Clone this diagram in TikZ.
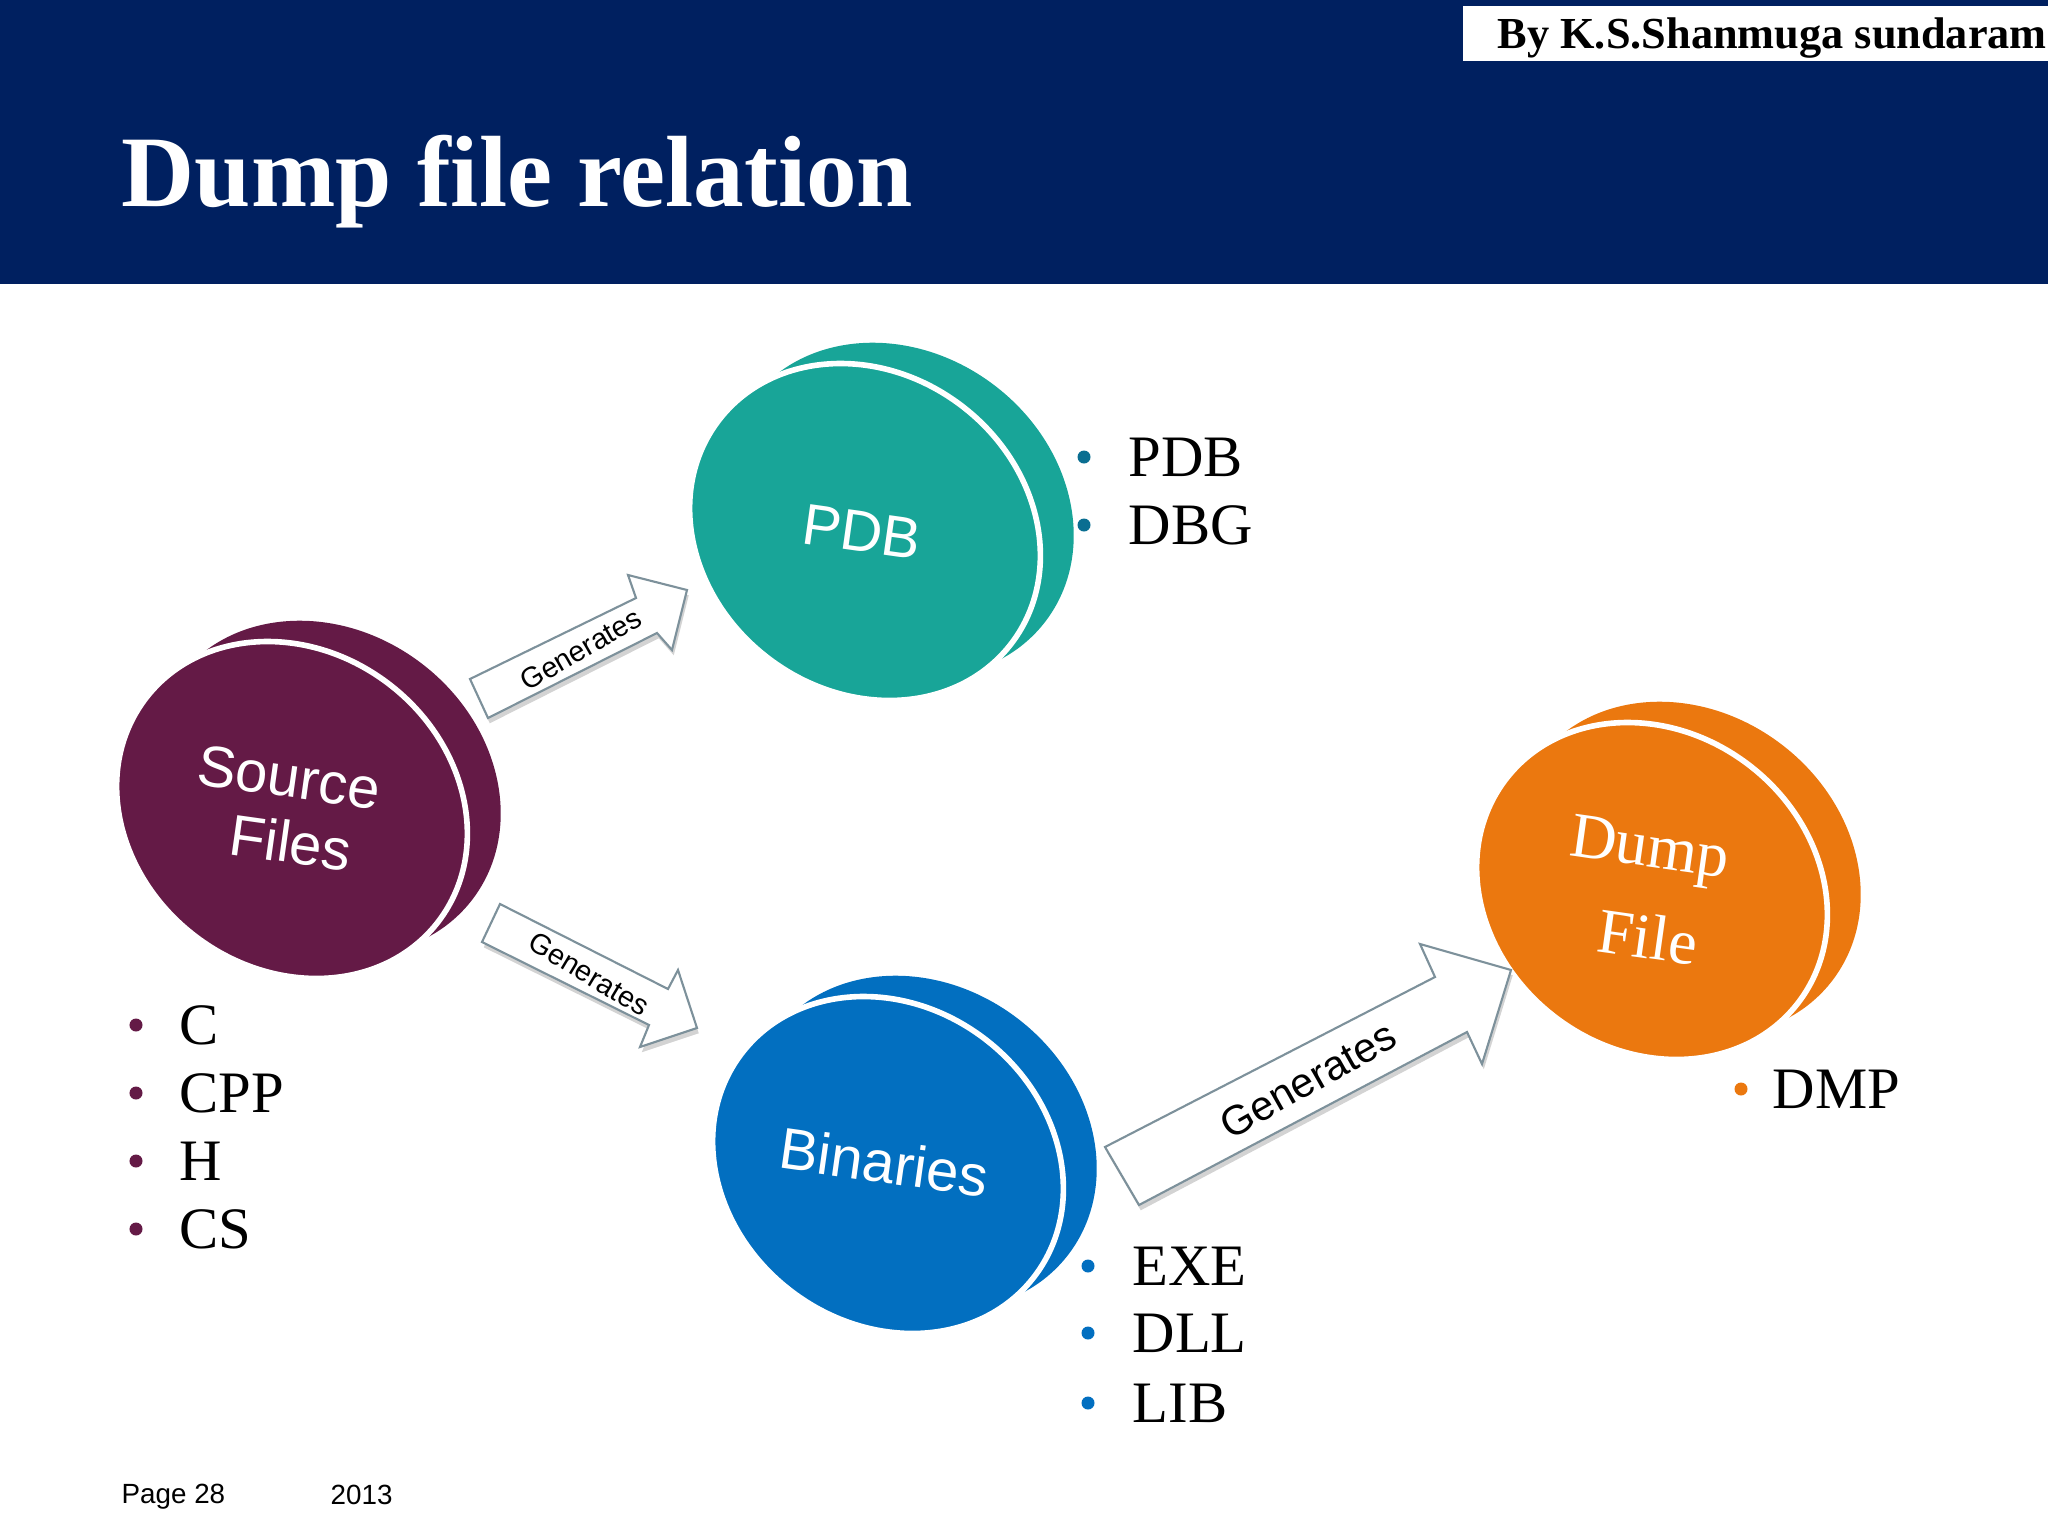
\documentclass[tikz,border=0pt]{standalone}
\usepackage{fontspec}
\setmainfont{Liberation Serif}
\setsansfont{Liberation Sans}
\usetikzlibrary{shadows}
\definecolor{headernavy}{RGB}{0,32,96}
\definecolor{sourcecolor}{RGB}{100,26,70}
\definecolor{pdbcolor}{RGB}{24,165,152}
\definecolor{pdbdotcolor}{RGB}{10,110,145}
\definecolor{binarycolor}{RGB}{2,111,192}
\definecolor{dumpcolor}{RGB}{235,120,15}
\definecolor{arrowedge}{RGB}{125,145,155}
\begin{document}
\begin{tikzpicture}
[x=0.01cm,y=-0.01cm,%
  discback/.style={fill=#1},%
  discfront/.style={fill=#1,draw=white,line width=1.6pt},%
  disclabel/.style={text=white,align=center,rotate=-8,inner sep=0pt},%
  sanslabel/.style={disclabel,font=\sffamily\fontsize{16.5}{18.5}\selectfont},%
  seriflabel/.style={disclabel,font=\fontsize{18.2}{26}\selectfont},%
  genarrow/.style={fill=white,draw=arrowedge,line width=0.6pt,line join=miter,%
    drop shadow={shadow xshift=0.5pt,shadow yshift=-1.5pt,opacity=0.35,fill=gray}},%
  genlabel/.style={font=\sffamily,inner sep=0pt},%
  listtext/.style={anchor=west,inner sep=0pt,font=\fontsize{16.7}{20}\selectfont},%
  listdot/.style={shape=circle,inner sep=0pt,minimum size=3.7pt,fill=#1}]
\useasboundingbox (0,0) rectangle (2048,1536);
%% header band
\fill[headernavy] (0,0) rectangle (2048,284);
\fill[white] (1463,6) rectangle (2048,61);
\node (byline) at (1497,38) [anchor=west,inner sep=0pt,font=\bfseries\fontsize{12.6}{15}\selectfont] {By K.S.Shanmuga sundaram};
\node (title) at (121,182) [anchor=west,inner sep=0pt,text=white,font=\bfseries\fontsize{28.8}{34}\selectfont] {Dump file relation};
%% discs
\foreach \discname/\x/\y/\disccolor in {source/292/810/sourcecolor, pdb/865/532/pdbcolor,
  binaries/888/1165/binarycolor, dump/1652/891/dumpcolor} {
  \begin{scope}[shift={(\x,\y)}]
  \fill[discback=\disccolor,shift={(34,-22)},rotate=-37] (0,0) ellipse [x radius=184,y radius=157];
  \draw[discfront=\disccolor,rotate=-37] (0,0) ellipse [x radius=184,y radius=159];
  \end{scope}
}
%% disc texts
\node (sourcelabel) at (290,810) [sanslabel] {Source\hspace*{3pt}\\\hspace*{3pt}Files};
\node (pdblabel) at (862,532) [sanslabel] {PDB};
\node (binarieslabel) at (884,1162) [sanslabel] {Binaries};
\node (dumplabel) at (1649,892) [seriflabel] {Dump\hspace*{3pt}\\\hspace*{3pt}File};
%% corners of the block arrows
\foreach \cornername/\x/\y in {pa1/470/679, pa2/636/598, pa3/628/575, pa4/687/590, pa5/672/650, pa6/657/633, pa7/488/718,
  ba1/500/904, ba2/668/989, ba3/678/970, ba4/697/1028, ba5/640/1047, ba6/649/1025, ba7/482/942,
  da1/1105/1147, da2/1435/977, da3/1420/944, da4/1511/970, da5/1482/1064, da6/1467/1032, da7/1139/1205} {
  \coordinate (\cornername) at (\x,\y);
}
%% block arrows
\foreach \arrowname in {pa,ba,da} {
  \draw[genarrow] (\arrowname1) -- (\arrowname2) -- (\arrowname3) -- (\arrowname4) -- (\arrowname5)
    -- (\arrowname6) -- (\arrowname7) -- cycle;
}
\node (palabel) at (581,649) [genlabel,rotate=30,font=\sffamily\fontsize{8.2}{10}\selectfont] {Generates};
\node (balabel) at (589,974) [genlabel,rotate=-31,font=\sffamily\fontsize{8.2}{10}\selectfont] {Generates};
\node (dalabel) at (1308,1080) [genlabel,rotate=29.5,font=\sffamily\fontsize{11.8}{14}\selectfont] {Generates};
%% lists
\foreach \itemname/\dotx/\x/\y/\itemtext/\itemcolor in {c/136/179/1025/C/sourcecolor, cpp/136/179/1093/CPP/sourcecolor,
  h/136/179/1161/H/sourcecolor, cs/136/179/1229/CS/sourcecolor,
  pdbfile/1084/1128/457/PDB/pdbdotcolor, dbg/1084/1128/525/DBG/pdbdotcolor,
  exe/1088/1132/1266/EXE/binarycolor, dll/1088/1132/1333/DLL/binarycolor, lib/1088/1132/1403/LIB/binarycolor,
  dmp/1741/1772/1089/DMP/dumpcolor} {
  \node (\itemname dot) at (\dotx,\y) [listdot=\itemcolor] {};
  \node (\itemname) at (\x,\y) [listtext] {\itemtext};
}
%% footer
\node (pageno) at (121,1497) [anchor=west,inner sep=0pt,font=\sffamily\fontsize{7.9}{10}\selectfont] {Page 28};
\node (year) at (330,1495) [anchor=west,inner sep=0pt,font=\sffamily\fontsize{7.9}{10}\selectfont] {2013};
\end{tikzpicture}
\end{document}
